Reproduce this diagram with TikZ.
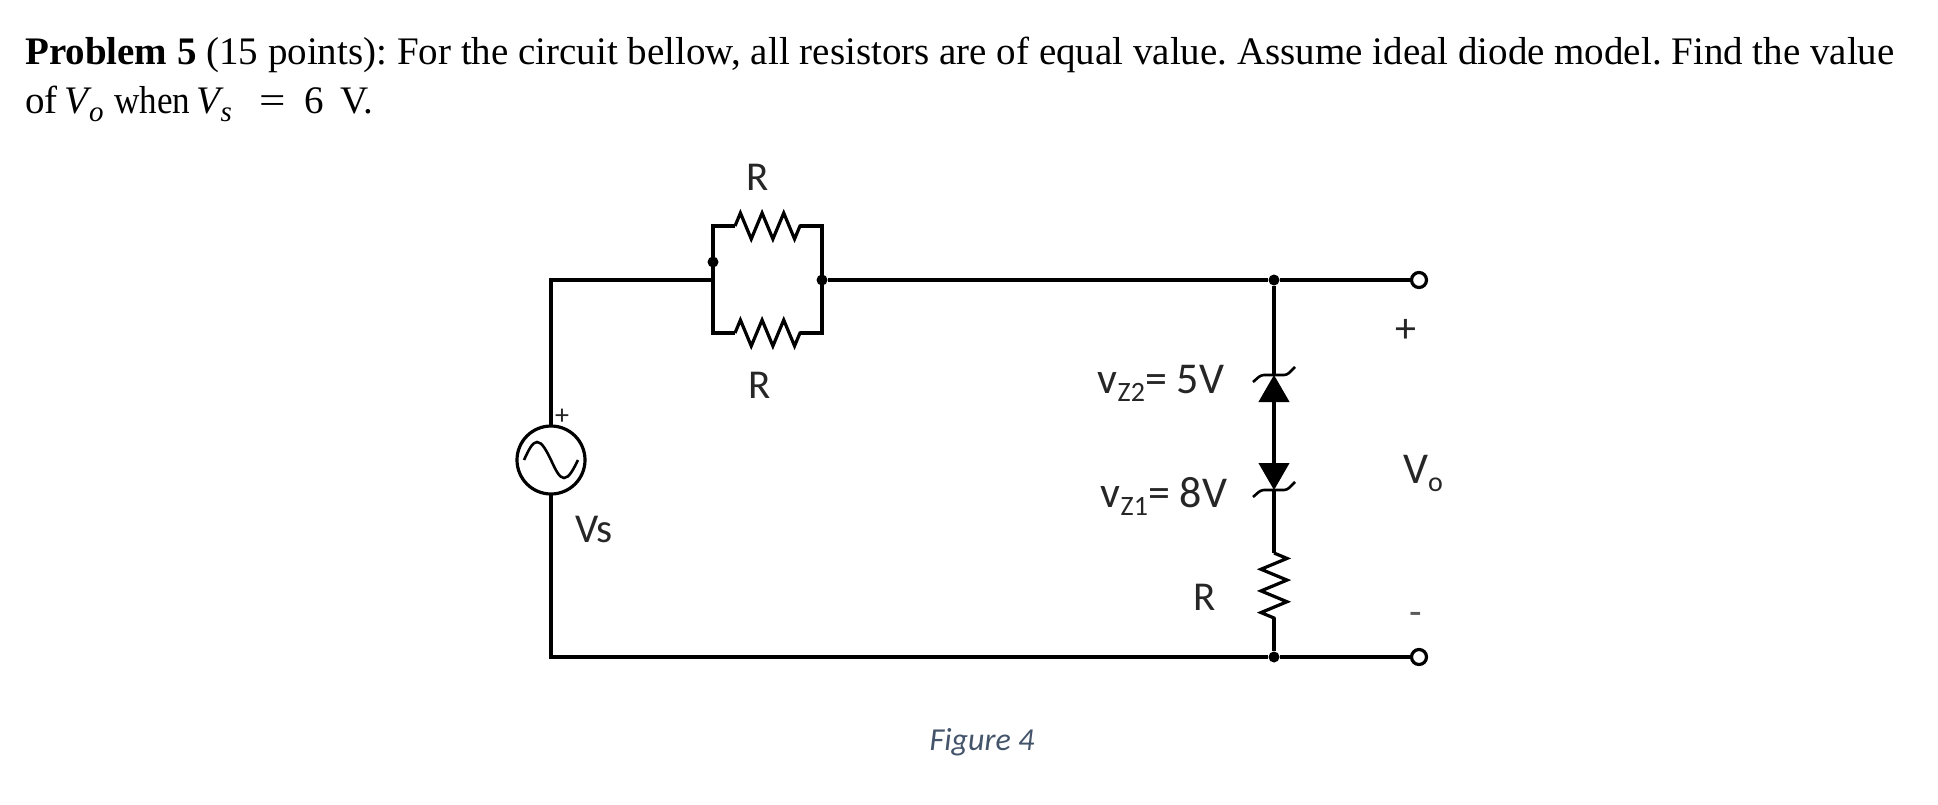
\documentclass[tikz,border=0pt]{standalone}
\usepackage{fontspec}
\usepackage{graphicx}
\setmainfont{Liberation Serif}
\newfontfamily\cali{Carlito}
\usetikzlibrary{positioning, shapes.geometric, decorations.pathmorphing}
\definecolor{figgray}{HTML}{44546A}
\tikzstyle{wire} = [line width=3.2pt,black]
\tikzstyle{res} = [wire,decorate,decoration={zigzag,segment length=21.66pt,amplitude=13pt}]
\tikzstyle{dot} = [circle,fill=black,inner sep=0pt,minimum size=11pt,anchor=center]
\tikzstyle{term} = [circle,draw,wire,fill=white,inner sep=0pt,outer sep=0pt,minimum size=15pt,anchor=center]
\tikzstyle{zener} = [regular polygon,regular polygon sides=3,fill=black,inner sep=0pt,outer sep=0pt,minimum size=36pt,anchor=center]
\tikzstyle{lab} = [font=\cali\fontsize{41}{41}\selectfont,inner sep=0pt,text=black!85,anchor=center]
\tikzstyle{para} = [font=\fontsize{39}{49}\selectfont\frenchspacing,inner sep=0pt,anchor=base west,align=left]
\newcommand{\subz}[1]{\raisebox{-8pt}{\fontsize{28}{28}\selectfont #1}}
\newcommand{\subm}[1]{\raisebox{-8pt}{\fontsize{29}{29}\selectfont\textit{#1}}}
\begin{document}
\begin{tikzpicture}[x=1pt,y=1pt]
	\useasboundingbox (0,0) rectangle (1938,-804);
	\node[para]                                         (text)  at (25,-113) {\textbf{Problem 5} (15 points): For the circuit bellow, all resistors are of equal value. Assume ideal diode model. Find the value\\of\hspace{-3pt} \textit{V}\hspace{-3pt}\subm{o}\hspace{1pt} \scalebox{.9}[1]{when}\hspace{-4pt} \textit{V}\hspace{-3pt}\subm{s}\hspace{28pt}\scalebox{1.2}[1]{=}\hspace{18pt}6\hspace{7pt} V.};

	\coordinate                                         (tl)    at (551,-280);
	\node[draw, circle, wire, fill=white, inner sep=0pt, outer sep=0pt, minimum size=68pt, below=146pt of tl] (src) {};
	\coordinate[below=377pt of tl]                      (bl);
	\coordinate[right=162pt of tl]                      (pl);
	\node[right=109pt of pl, dot]                       (pr)    {};
	\node[above=18pt of pl, dot]                        (pd)    {};
	\coordinate[above=54pt of pl]                       (ptl);
	\coordinate[below=53pt of pl]                       (pbl);
	\coordinate[above=54pt of pr.center]                (ptr);
	\coordinate[below=53pt of pr.center]                (pbr);
	\coordinate[right=22pt of ptl]                      (r1a);
	\coordinate[right=65pt of r1a]                      (r1b);
	\coordinate[right=22pt of pbl]                      (r2a);
	\coordinate[right=65pt of r2a]                      (r2b);

	\node[right=452pt of pr.center, dot]                (jt)    {};
	\node[right=145pt of jt.center, term]               (tt)    {};
	\node[below=113pt of jt.center, zener]              (z2)    {};
	\node[below=79pt of z2.center, zener, shape border rotate=180] (z1) {};
	\coordinate[below=81pt of z1.center]                (ra);
	\coordinate[below=65pt of ra]                       (rb);
	\node[below=39pt of rb, dot]                        (jb)    {};
	\node[right=145pt of jb.center, term]               (tb)    {};

	\node[above=103pt of pl, xshift=45pt, lab]          (r1)    {R};
	\node[below=105pt of pl, xshift=47pt, lab]          (r2)    {R};
	\node[left=69pt of ra, yshift=-44pt, lab]           (r3)    {R};
	\node[right=43pt of src.center, yshift=-69pt, lab]  (vs)    {Vs};
	\node[right=11pt of src.center, yshift=43pt, lab, font=\cali\fontsize{28}{28}\selectfont] (plus) {+};
	\node[left=113pt of z2.center, yshift=10pt, lab, font=\cali\fontsize{44}{44}\selectfont]   (vz2)   {v\subz{Z2}= 5V};
	\node[left=110pt of z1.center, yshift=-24pt, lab, font=\cali\fontsize{44}{44}\selectfont]  (vz1)   {v\subz{Z1}= 8V};
	\node[above=184pt of tb.center, xshift=4pt, lab, font=\cali\fontsize{44}{44}\selectfont]   (vo)    {V\subz{o}};
	\node[above=326pt of tb.center, xshift=-13pt, lab, font=\cali\fontsize{42}{42}\selectfont] (vp) {+};
	\node[above=38pt of tb.center, xshift=-3pt, lab, text=black!65]  (vm)    {-};
	\node[below=85pt of jb.center, xshift=-292pt, inner sep=0pt, anchor=center, text=figgray, font=\cali\itshape\fontsize{32}{32}\selectfont] (fig) {Figure 4};

	\draw[wire] (src) -- (tl) -- (pl);
	\draw[wire] (src) -- (bl) -- (jb);
	\draw[wire] (r1a) -- (ptl) -- (pbl) -- (r2a);
	\draw[wire] (r1b) -- (ptr) -- (pbr) -- (r2b);
	\draw[res]  (r1a) -- (r1b);
	\draw[res]  (r2a) -- (r2b);
	\draw[wire] (pr) -- (jt);
	\draw[wire] (jt) -- (tt);
	\draw[wire] (jb) -- (tb);
	\draw[wire] (jt) -- (z2.corner 1);
	\draw[wire] (z2.side 2) -- (z1.side 2);
	\draw[wire] (z1.corner 1) -- (ra);
	\draw[res]  (ra) -- (rb);
	\draw[wire] (rb) -- (jb);

	\draw[wire, line width=2.6pt, rounded corners=3pt] ([shift={(-21,-7)}]z2.corner 1) -- ++(8,7) -- ++(26,0) -- ++(8,8);
	\draw[wire, line width=2.6pt, rounded corners=3pt] ([shift={(-21,-7)}]z1.corner 1) -- ++(8,7) -- ++(26,0) -- ++(8,8);
	\draw[wire, line width=2.6pt] ([xshift=-27pt]src.center) sin ++(13,18) cos ++(14,-18) sin ++(13,-18) cos ++(14,18);
\end{tikzpicture}
\end{document}
